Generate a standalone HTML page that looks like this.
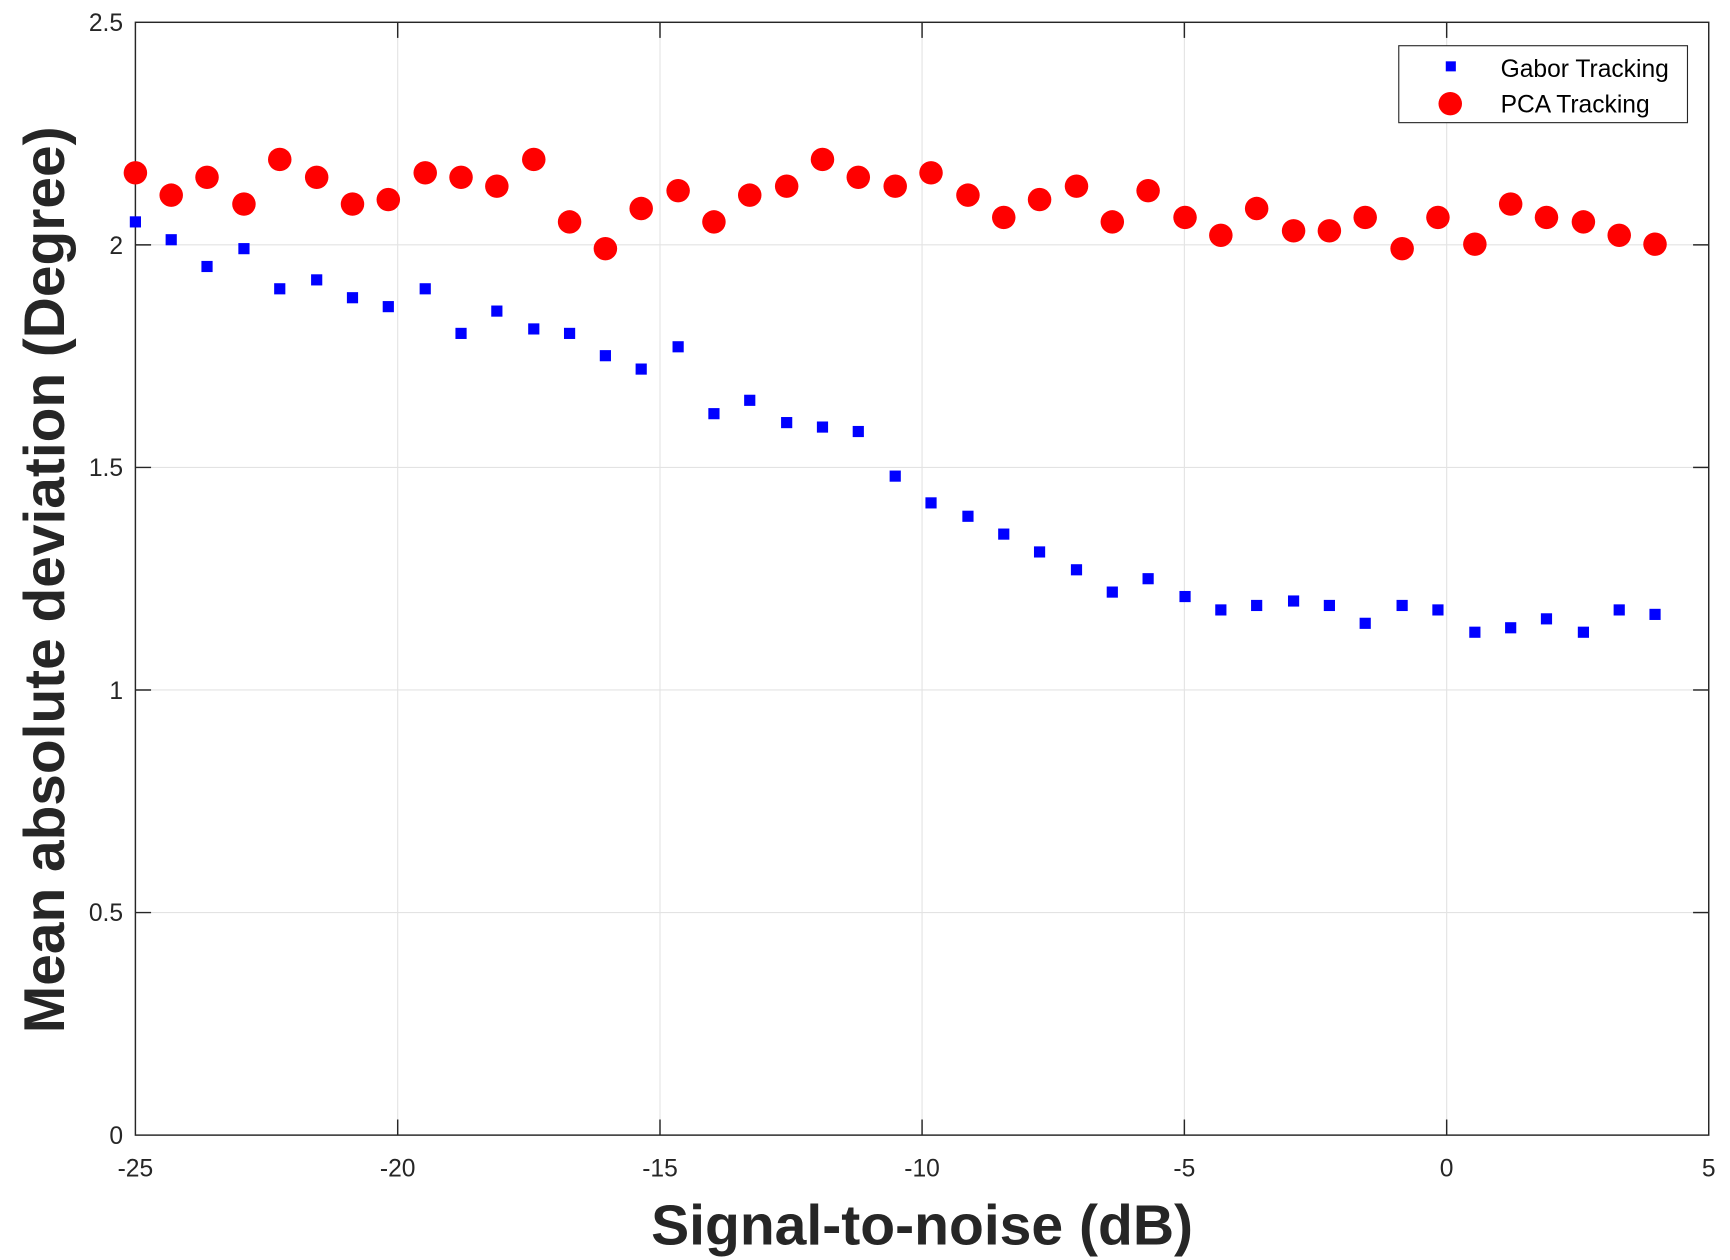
<!DOCTYPE html>
<html><head><meta charset="utf-8"><style>html,body{margin:0;padding:0;background:#fff}svg{display:block}</style></head>
<body>
<svg width="1730" height="1260" viewBox="0 0 1546 1130" preserveAspectRatio="none" xmlns="http://www.w3.org/2000/svg" font-family="Liberation Sans, Arial, sans-serif">
<rect x="0" y="0" width="1546" height="1130" fill="#fff"/>
<g stroke="#e3e3e3" stroke-width="1">
<line x1="355.4" y1="20" x2="355.4" y2="1018"/><line x1="589.8" y1="20" x2="589.8" y2="1018"/><line x1="824" y1="20" x2="824" y2="1018"/><line x1="1058.4" y1="20" x2="1058.4" y2="1018"/><line x1="1292.8" y1="20" x2="1292.8" y2="1018"/>
<line x1="121" y1="818.4" x2="1527" y2="818.4"/><line x1="121" y1="618.8" x2="1527" y2="618.8"/><line x1="121" y1="419.2" x2="1527" y2="419.2"/><line x1="121" y1="219.6" x2="1527" y2="219.6"/>
</g>
<rect x="121" y="20" width="1406" height="998" fill="none" stroke="#262626" stroke-width="1.3"/>
<g stroke="#262626" stroke-width="1.3">
<line x1="355.4" y1="1018" x2="355.4" y2="1004"/><line x1="589.8" y1="1018" x2="589.8" y2="1004"/><line x1="824" y1="1018" x2="824" y2="1004"/><line x1="1058.4" y1="1018" x2="1058.4" y2="1004"/><line x1="1292.8" y1="1018" x2="1292.8" y2="1004"/>
<line x1="355.4" y1="20" x2="355.4" y2="34"/><line x1="589.8" y1="20" x2="589.8" y2="34"/><line x1="824" y1="20" x2="824" y2="34"/><line x1="1058.4" y1="20" x2="1058.4" y2="34"/><line x1="1292.8" y1="20" x2="1292.8" y2="34"/>
<line x1="121" y1="818.4" x2="135" y2="818.4"/><line x1="121" y1="618.8" x2="135" y2="618.8"/><line x1="121" y1="419.2" x2="135" y2="419.2"/><line x1="121" y1="219.6" x2="135" y2="219.6"/>
<line x1="1527" y1="818.4" x2="1513" y2="818.4"/><line x1="1527" y1="618.8" x2="1513" y2="618.8"/><line x1="1527" y1="419.2" x2="1513" y2="419.2"/><line x1="1527" y1="219.6" x2="1513" y2="219.6"/>
</g>
<g font-size="22" fill="#262626" text-anchor="middle">
<text x="121" y="1055">-25</text><text x="355.4" y="1055">-20</text><text x="589.8" y="1055">-15</text><text x="824" y="1055">-10</text><text x="1058.4" y="1055">-5</text><text x="1292.8" y="1055">0</text><text x="1527" y="1055">5</text>
</g>
<g font-size="22" fill="#262626" text-anchor="end">
<text x="110" y="1026">0</text><text x="110" y="826">0.5</text><text x="110" y="627">1</text><text x="110" y="427">1.5</text><text x="110" y="228">2</text><text x="110" y="28">2.5</text>
</g>
<text x="824" y="1116" font-size="51" font-weight="bold" fill="#262626" text-anchor="middle">Signal-to-noise (dB)</text>
<text transform="translate(57,520) rotate(-90)" font-size="51" font-weight="bold" fill="#262626" text-anchor="middle">Mean absolute deviation (Degree)</text>
<g fill="#0000ff">
<rect x="116" y="194" width="10" height="10"/><rect x="148" y="210" width="10" height="10"/><rect x="180" y="234" width="10" height="10"/><rect x="213" y="218" width="10" height="10"/><rect x="245" y="254" width="10" height="10"/><rect x="278" y="246" width="10" height="10"/><rect x="310" y="262" width="10" height="10"/><rect x="342" y="270" width="10" height="10"/><rect x="375" y="254" width="10" height="10"/><rect x="407" y="294" width="10" height="10"/><rect x="439" y="274" width="10" height="10"/><rect x="472" y="290" width="10" height="10"/><rect x="504" y="294" width="10" height="10"/><rect x="536" y="314" width="10" height="10"/><rect x="568" y="326" width="10" height="10"/><rect x="601" y="306" width="10" height="10"/><rect x="633" y="366" width="10" height="10"/><rect x="665" y="354" width="10" height="10"/><rect x="698" y="374" width="10" height="10"/><rect x="730" y="378" width="10" height="10"/><rect x="762" y="382" width="10" height="10"/><rect x="795" y="422" width="10" height="10"/><rect x="827" y="446" width="10" height="10"/><rect x="860" y="458" width="10" height="10"/><rect x="892" y="474" width="10" height="10"/><rect x="924" y="490" width="10" height="10"/><rect x="957" y="506" width="10" height="10"/><rect x="989" y="526" width="10" height="10"/><rect x="1021" y="514" width="10" height="10"/><rect x="1054" y="530" width="10" height="10"/><rect x="1086" y="542" width="10" height="10"/><rect x="1118" y="538" width="10" height="10"/><rect x="1151" y="534" width="10" height="10"/><rect x="1183" y="538" width="10" height="10"/><rect x="1215" y="554" width="10" height="10"/><rect x="1248" y="538" width="10" height="10"/><rect x="1280" y="542" width="10" height="10"/><rect x="1313" y="562" width="10" height="10"/><rect x="1345" y="558" width="10" height="10"/><rect x="1377" y="550" width="10" height="10"/><rect x="1410" y="562" width="10" height="10"/><rect x="1442" y="542" width="10" height="10"/><rect x="1474" y="546" width="10" height="10"/>
</g>
<g fill="#ff0000">
<circle cx="121" cy="155" r="10.5"/><circle cx="153" cy="175" r="10.5"/><circle cx="185" cy="159" r="10.5"/><circle cx="218" cy="183" r="10.5"/><circle cx="250" cy="143" r="10.5"/><circle cx="283" cy="159" r="10.5"/><circle cx="315" cy="183" r="10.5"/><circle cx="347" cy="179" r="10.5"/><circle cx="380" cy="155" r="10.5"/><circle cx="412" cy="159" r="10.5"/><circle cx="444" cy="167" r="10.5"/><circle cx="477" cy="143" r="10.5"/><circle cx="509" cy="199" r="10.5"/><circle cx="541" cy="223" r="10.5"/><circle cx="573" cy="187" r="10.5"/><circle cx="606" cy="171" r="10.5"/><circle cx="638" cy="199" r="10.5"/><circle cx="670" cy="175" r="10.5"/><circle cx="703" cy="167" r="10.5"/><circle cx="735" cy="143" r="10.5"/><circle cx="767" cy="159" r="10.5"/><circle cx="800" cy="167" r="10.5"/><circle cx="832" cy="155" r="10.5"/><circle cx="865" cy="175" r="10.5"/><circle cx="897" cy="195" r="10.5"/><circle cx="929" cy="179" r="10.5"/><circle cx="962" cy="167" r="10.5"/><circle cx="994" cy="199" r="10.5"/><circle cx="1026" cy="171" r="10.5"/><circle cx="1059" cy="195" r="10.5"/><circle cx="1091" cy="211" r="10.5"/><circle cx="1123" cy="187" r="10.5"/><circle cx="1156" cy="207" r="10.5"/><circle cx="1188" cy="207" r="10.5"/><circle cx="1220" cy="195" r="10.5"/><circle cx="1253" cy="223" r="10.5"/><circle cx="1285" cy="195" r="10.5"/><circle cx="1318" cy="219" r="10.5"/><circle cx="1350" cy="183" r="10.5"/><circle cx="1382" cy="195" r="10.5"/><circle cx="1415" cy="199" r="10.5"/><circle cx="1447" cy="211" r="10.5"/><circle cx="1479" cy="219" r="10.5"/>
</g>
<rect x="1250" y="41" width="258" height="69" fill="#fff" stroke="#262626" stroke-width="1"/>
<rect x="1292" y="55" width="9" height="9" fill="#0000ff"/>
<circle cx="1296" cy="93" r="10.5" fill="#ff0000"/>
<text x="1341" y="69" font-size="22" fill="#000">Gabor Tracking</text>
<text x="1341" y="101" font-size="22" fill="#000">PCA Tracking</text>
</svg>
</body></html>
